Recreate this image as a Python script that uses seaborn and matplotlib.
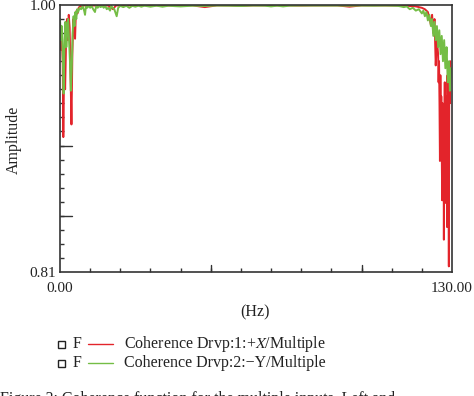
import numpy as np
import pandas as pd
import matplotlib
matplotlib.use("Agg")
import matplotlib.pyplot as plt
from matplotlib.lines import Line2D
from matplotlib.patches import Rectangle
from matplotlib.ticker import MultipleLocator, FixedLocator
import seaborn as sns

# ---------------- data ----------------
series_names = ["Coherence Drvp:1:+X/Multiple", "Coherence Drvp:2:\u2212Y/Multiple"]
series_colors = ["#e3242b", "#74bd45"]

red_freq = [0.0, 0.3, 0.6, 0.9, 1.1, 1.4, 1.7, 2.0, 2.3, 2.6, 2.9, 3.2, 3.5, 3.8, 4.1, 4.4,
            4.7, 5.0, 5.2, 5.5, 5.8, 6.2, 6.7, 7.2, 8.0, 9.0, 10.0, 12.0, 14.0, 16.0, 17.6,
            18.5, 20.0, 24.0, 28.0, 32.0, 36.0, 40.0, 44.0, 48.0, 52.0, 56.0, 60.0, 64.0,
            68.0, 72.0, 76.0, 80.0, 84.0, 88.0, 92.0, 96.0, 100.0, 104.0, 108.0, 112.0,
            114.0, 116.0, 118.0, 119.0, 120.0, 121.0, 122.0, 122.6, 123.0, 123.4, 123.8,
            124.2, 124.6, 125.0, 125.4, 125.55, 125.7, 125.85, 126.0, 126.15, 126.3, 126.45,
            126.6, 126.75, 126.9, 127.05, 127.2, 127.3, 127.45, 127.6, 127.75, 127.9, 128.05,
            128.2, 128.35, 128.5, 128.65, 128.8, 128.95, 129.1, 129.25, 129.4]
red_amp = [0.985, 0.968, 0.978, 0.960, 0.906, 0.962, 0.940, 0.972, 0.990, 0.975, 0.993, 0.984,
           0.950, 0.915, 0.965, 0.990, 0.982, 0.976, 0.990, 0.996, 0.994, 0.998, 0.9993, 0.999,
           0.9997, 0.9996, 0.9997, 0.9996, 0.9997, 0.9996, 0.997, 0.9996, 0.9997, 0.9997, 0.9997,
           0.9997, 0.9996, 0.9997, 0.9997, 0.9985, 0.9997, 0.9997, 0.9994, 0.9997, 0.9997, 0.9997,
           0.9997, 0.9996, 0.9997, 0.9997, 0.9997, 0.9988, 0.9997, 0.9997, 0.9997, 0.9996,
           0.9995, 0.9993, 0.999, 0.9985, 0.998, 0.997, 0.995, 0.990, 0.986, 0.993, 0.980,
           0.990, 0.957, 0.975, 0.965, 0.945, 0.960, 0.930, 0.889, 0.950, 0.910, 0.935,
           0.895, 0.861, 0.930, 0.880, 0.920, 0.833, 0.905, 0.945, 0.875, 0.925, 0.859,
           0.935, 0.842, 0.950, 0.900, 0.940, 0.814, 0.955, 0.930, 0.960]

green_freq = [0.0, 0.3, 0.6, 0.9, 1.2, 1.5, 1.8, 2.1, 2.4, 2.7, 3.0, 3.3, 3.6, 3.9, 4.2, 4.5,
              4.8, 5.1, 5.4, 5.7, 6.0, 6.5, 7.0, 7.5, 8.0, 8.3, 8.6, 9.0, 9.5, 10.0, 10.5,
              11.0, 11.6, 12.0, 12.5, 13.0, 13.5, 14.0, 14.5, 15.0, 15.5, 16.0, 16.6, 17.0,
              17.5, 18.0, 18.8, 19.3, 20.0, 21.0, 22.0, 23.0, 24.0, 25.0, 26.0, 27.0, 28.0,
              30.0, 32.0, 34.0, 36.0, 38.0, 40.0, 44.0, 48.0, 52.0, 56.0, 60.0, 64.0, 68.0,
              70.0, 72.0, 74.0, 76.0, 80.0, 84.0, 88.0, 92.0, 96.0, 100.0, 104.0, 108.0,
              112.0, 113.0, 114.0, 115.0, 116.0, 117.0, 118.0, 119.0, 120.0, 120.5, 121.0,
              121.5, 122.0, 122.5, 123.0, 123.4, 123.8, 124.2, 124.6, 125.0, 125.4, 125.8,
              126.2, 126.6, 127.0, 127.4, 127.8, 128.2, 128.6, 129.0, 129.3, 129.6]
green_amp = [0.990, 0.975, 0.985, 0.965, 0.937, 0.975, 0.988, 0.970, 0.982, 0.990, 0.975,
             0.960, 0.939, 0.955, 0.980, 0.992, 0.985, 0.995, 0.990, 0.997, 0.995, 0.998,
             0.997, 0.9992, 0.996, 0.993, 0.9993, 0.998, 0.9994, 0.998, 0.9993, 0.997, 0.995,
             0.9994, 0.998, 0.9994, 0.9985, 0.9994, 0.998, 0.9994, 0.997, 0.998, 0.996, 0.9994,
             0.998, 0.997, 0.992, 0.998, 0.9994, 0.9985, 0.9994, 0.998, 0.9994, 0.9988, 0.9995,
             0.9988, 0.9995, 0.9988, 0.9995, 0.9988, 0.9995, 0.9992, 0.999, 0.9995, 0.9993, 0.9996,
             0.9995, 0.9993, 0.9996, 0.9995, 0.999, 0.9995, 0.999, 0.9995, 0.9996, 0.9996, 0.9996,
             0.9996, 0.9995, 0.9996, 0.9995, 0.9996, 0.9994, 0.999, 0.9985, 0.999, 0.997, 0.998,
             0.996, 0.997, 0.994, 0.996, 0.992, 0.995, 0.989, 0.993, 0.985, 0.990, 0.978,
             0.988, 0.975, 0.985, 0.970, 0.982, 0.965, 0.978, 0.960, 0.975, 0.955, 0.970,
             0.945, 0.960, 0.939, 0.955]

x_tick_labels = ["0.00", "130.00"]
y_tick_labels = ["0.81", "1.00"]
x_label = "(Hz)"
y_label = "Amplitude"
caption = "Figure 3: Coherence function for the multiple inputs. Left and"

# ---------------- build table ----------------
df = pd.concat([
    pd.DataFrame({"freq": red_freq, "amp": red_amp, "series": series_names[0]}),
    pd.DataFrame({"freq": green_freq, "amp": green_amp, "series": series_names[1]}),
], ignore_index=True)

sns.set_theme(style="white")
plt.rcParams["font.family"] = ["Liberation Serif", "DejaVu Serif"]
plt.rcParams["mathtext.fontset"] = "stix"

W, H = 474, 396
fig = plt.figure(figsize=(W / 100, H / 100), dpi=100)
ax = fig.add_axes([60 / W, 1 - 272 / H, 392 / W, 267 / H])

sns.lineplot(data=df, x="freq", y="amp", hue="series", hue_order=series_names,
             palette=series_colors, estimator=None, sort=False, legend=False,
             linewidth=1.4, ax=ax)

ax.set_xlim(0, 130)
ax.set_ylim(0.81, 1.00)

# ticks
ax.xaxis.set_major_locator(FixedLocator([0, 130]))
ax.set_xticklabels(x_tick_labels)
ax.xaxis.set_minor_locator(MultipleLocator(10))
ax.yaxis.set_major_locator(FixedLocator([0.81, 1.00]))
ax.set_yticklabels(y_tick_labels)
ax.yaxis.set_minor_locator(MultipleLocator(0.01))
ax.tick_params(axis="both", which="major", direction="in", length=0, labelsize=11,
               colors="#222222")
ax.tick_params(axis="x", which="major", pad=7)
ax.tick_params(axis="y", which="major", pad=3)
ax.tick_params(axis="both", which="minor", direction="in", length=3, width=1,
               color="#333333")
ax.tick_params(axis="both", which="both", left=True, bottom=True, top=False, right=False)
# longer ticks at 0.90 / 0.85 and 50 / 100
for yv in [0.90, 0.85]:
    ax.axhline(yv, xmin=0, xmax=12 / 392, color="#333333", lw=1)
for xv in [50, 100]:
    ax.axvline(xv, ymin=0, ymax=7 / 267, color="#333333", lw=1)

for s in ax.spines.values():
    s.set_color("#333333")
    s.set_linewidth(1.2)

ax.set_xlabel("")
ax.set_ylabel("")
fig.text(14 / W, 1 - 140 / H, y_label, rotation=90, ha="center", va="center",
         fontsize=11.5, color="#222222")
fig.text(255 / W, 1 - 312 / H, x_label, ha="center", va="center", fontsize=11.5,
         color="#222222")

# legend block
rows_y = [344, 363]
for yy, color, name in zip(rows_y, series_colors, series_names):
    fig.patches.append(Rectangle((58 / W, 1 - (yy + 3.5) / H), 7 / W, 7 / H,
                                 transform=fig.transFigure, fill=False,
                                 edgecolor="#222222", lw=1))
    fig.text(73 / W, 1 - yy / H, "F", ha="left", va="center", fontsize=11.5, color="#222222")
    fig.lines.append(Line2D([88 / W, 113 / W], [1 - yy / H, 1 - yy / H],
                            transform=fig.transFigure, color=color, lw=1))
fig.text(124 / W, 1 - rows_y[0] / H, "Coherence Drvp:1:+$\\mathit{X}$/Multiple",
         ha="left", va="center", fontsize=11.5, color="#222222")
fig.text(124 / W, 1 - rows_y[1] / H, series_names[1],
         ha="left", va="center", fontsize=11.5, color="#222222")

fig.text(0 / W, 1 - 391 / H, caption, ha="left", va="top", fontsize=11.5, color="#222222")

fig.savefig("out.png", dpi=100)
